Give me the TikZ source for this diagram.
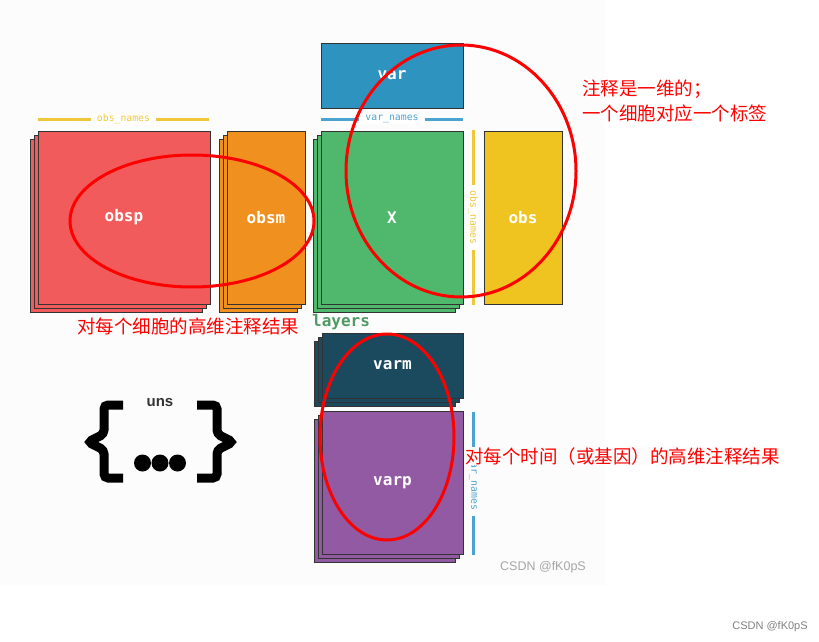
\documentclass[tikz,border=0pt]{standalone}
\usepackage{fontspec}
\setmainfont{Liberation Sans}
\newfontfamily\cjk{Noto Sans CJK SC}
\newfontfamily\mono{DejaVu Sans Mono}
\usepackage{tikz}
\usetikzlibrary{shapes,positioning}
\definecolor{bgcol}{HTML}{FCFCFC}
\definecolor{obspcol}{HTML}{F25B5C}
\definecolor{obsmcol}{HTML}{F0901F}
\definecolor{Xcol}{HTML}{50B86D}
\definecolor{varcol}{HTML}{2E94BF}
\definecolor{obscol}{HTML}{EFC320}
\definecolor{varmcol}{HTML}{1B4A5E}
\definecolor{varpcol}{HTML}{925AA3}
\definecolor{layerscol}{HTML}{4F9A62}
\definecolor{obsline}{HTML}{F0C63A}
\definecolor{varline}{HTML}{4AA3D0}
\tikzstyle{block}=[draw=black!80,line width=0.9pt,inner sep=0pt,text=white,font=\mono\bfseries\fontsize{16}{16}\selectfont]
\tikzstyle{namesline}=[line width=3pt]
\tikzstyle{namelabel}=[font=\mono\fontsize{9.8}{10}\selectfont,inner xsep=6pt,inner ysep=1pt,fill=white]
\tikzstyle{ring}=[draw=red,line width=3pt]
\tikzstyle{note}=[font=\cjk\fontsize{18.5}{25}\selectfont,text=red,inner sep=0pt,anchor=west,align=left]
\tikzstyle{dot}=[circle,fill=black,minimum size=17pt,inner sep=0pt]
\tikzstyle{brace}=[line width=9pt,rounded corners=4pt]
\begin{document}
\begin{tikzpicture}[x=1pt,y=-1pt]
   \useasboundingbox (0,0) rectangle (819,642);
   \fill[bgcol] (0,0) rectangle (605,585);
   % stacked blocks
   \foreach \name/\cx/\cy/\w/\h/\col in {obsp/124/217.5/172/173/obspcol, obsm/266/217.5/78/173/obsmcol,
        X/392/217.5/142/173/Xcol, varm/392.5/365.5/141/65/varmcol, varp/392.5/482.5/141/143/varpcol}
   {
      \foreach \d in {8,4}
         \node[block,fill=\col,minimum width=\w,minimum height=\h] at (\cx-\d,\cy+\d) {};
      \node[block,fill=\col,minimum width=\w,minimum height=\h] (\name) at (\cx,\cy) {\name};
   }
   % single blocks
   \node[block,fill=varcol,minimum width=142,minimum height=65] (var) at (392,75.5) {var};
   \node[block,fill=obscol,minimum width=78,minimum height=173] (obs) at (523,217.5) {obs};
   % name bars
   \coordinate (on1) at (38,119);
   \coordinate (on2) at (209,119);
   \coordinate (vn1) at (321,119);
   \coordinate (vn2) at (463,119);
   \coordinate (on3) at (473,130);
   \coordinate (on4) at (473,305);
   \coordinate (vn3) at (473,412);
   \coordinate (vn4) at (473,555);
   \draw[namesline,obsline] (on1) -- node[namelabel,text=obsline] {obs\_names} (on2);
   \draw[namesline,varline] (vn1) -- node[namelabel,text=varline] {var\_names} (vn2);
   \draw[namesline,obsline] (on3) -- node[namelabel,text=obsline,rotate=-90] {obs\_names} (on4);
   \draw[namesline,varline] (vn3) -- node[namelabel,text=varline,rotate=-90,fill=bgcol] {var\_names} (vn4);
   \node[font=\mono\bfseries\fontsize{16}{16}\selectfont,text=layerscol,anchor=west,inner sep=0pt] (layers) at (312,322) {layers};
   % uns
   \node[font=\bfseries\fontsize{15}{15}\selectfont,text=black!80,inner sep=0pt] (uns) at (160,403) {uns};
   \foreach \x/\n in {142.5/1, 160/2, 177.5/3}
      \node[dot] (dot\n) at (\x,463) {};
   \draw[brace] (123,405) -- (104,405) -- (104,434) -- (88,442) -- (104,450) -- (104,478) -- (123,478);
   \draw[brace] (197,405) -- (217,405) -- (217,434) -- (233,442) -- (217,450) -- (217,478) -- (197,478);
   % red marks
   \draw[ring] (192,221) ellipse [x radius=122, y radius=66];
   \draw[ring] (461,171) ellipse [x radius=115, y radius=126];
   \draw[ring] (387,437) ellipse [x radius=67, y radius=103];
   \node[note] (note1) at (582,100.5) {注释是一维的；\\一个细胞对应一个标签};
   \node[note] (note2) at (77,326) {对每个细胞的高维注释结果};
   \node[note,fill=bgcol] (note3) at (465,456) {对每个时间（或基因）的高维注释结果};
   % watermarks
   \node[font=\fontsize{12.5}{13}\selectfont,text=black!35] (wm1) at (543,567) {CSDN @fK0pS};
   \node[font=\fontsize{11}{12}\selectfont,text=black!50] (wm2) at (770,627) {CSDN @fK0pS};
\end{tikzpicture}
\end{document}
